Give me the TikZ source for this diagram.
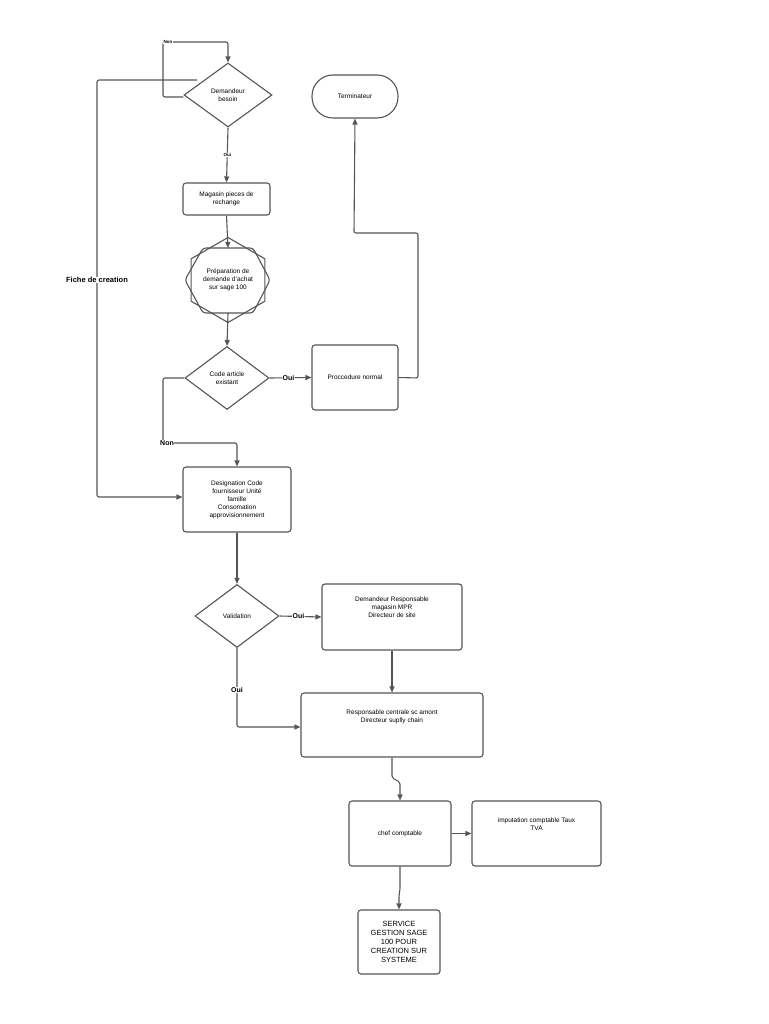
\documentclass[tikz,border=0pt]{standalone}
\usepackage{fontspec}
\setmainfont{Liberation Sans}
\usetikzlibrary{shapes.geometric,arrows.meta}
\definecolor{ln}{HTML}{555555}
\begin{document}
\begin{tikzpicture}[x=1pt,y=-1pt,
  box/.style={draw=ln,line width=1.1pt,rounded corners=3pt,align=center,font=\fontsize{6.5}{8}\selectfont,inner sep=1pt},
  dia/.style={draw=ln,line width=1.1pt,diamond,aspect=1.35,align=center,font=\fontsize{6.5}{8}\selectfont,inner sep=0pt,minimum width=88pt,minimum height=64pt},
  arr/.style={draw=ln,line width=1.1pt,-{Triangle[length=6pt,width=5pt]},rounded corners=2pt},
  lnk/.style={draw=ln,line width=1.1pt,rounded corners=2pt},
  lab/.style={font=\bfseries\fontsize{7}{8}\selectfont,fill=white,inner sep=0.5pt}]
\useasboundingbox (0,0) rectangle (768,1024);
\node[dia] (d1) at (228,95) {Demandeur\\besoin};
\node[box,minimum width=87pt,minimum height=32pt] (mag) at (226.5,199) {Magasin pieces de\\rechange};
\node[draw=ln,line width=1.1pt,regular polygon,regular polygon sides=6,shape border rotate=90,minimum size=1pt,inner sep=0pt,
  xscale=1,minimum width=85pt,minimum height=65pt] (hex) at (228,280) {};
\draw[ln,line width=1.1pt,rounded corners=3pt] (185,280)--(203,248)--(253,248)--(270,280)--(253,313)--(203,313)--cycle;
\node[align=center,font=\fontsize{6.5}{8}\selectfont] (hext) at (228,280) {Préparation de\\demande d'achat\\sur sage 100};
\node[dia,minimum width=84pt,minimum height=63pt] (d2) at (227,378) {Code article\\existant};
\node[box,minimum width=86pt,minimum height=65pt] (proc) at (355,377.5) {Proccedure normal};
\node[box,rounded corners=21pt,minimum width=86pt,minimum height=43pt] (term) at (355,96.5) {Terminateur};
\node[box,minimum width=108pt,minimum height=65pt] (des) at (237,499.5) {Designation Code\\fournisseur Unité\\famille\\Consomation\\approvisionnement};
\node[dia,minimum width=84pt,minimum height=63pt] (val) at (237,616) {Validation};
\node[box,minimum width=140pt,minimum height=66pt] (dem) at (392,617) {Demandeur Responsable\\magasin MPR\\Directeur de site\\[12pt]};
\node[box,minimum width=182pt,minimum height=64pt] (resp) at (392,725) {Responsable centrale sc amont\\Directeur suplly chain\\[10pt]};
\node[box,minimum width=102pt,minimum height=65pt] (chef) at (400,833.5) {chef comptable};
\node[box,minimum width=129pt,minimum height=65pt] (imp) at (536.5,833.5) {imputation comptable Taux\\TVA\\[10pt]};
\node[box,minimum width=82pt,minimum height=64pt,font=\fontsize{7.5}{9}\selectfont] (serv) at (399,942) {SERVICE\\GESTION SAGE\\100 POUR\\CREATION SUR\\SYSTEME};
\coordinate (nl) at (163,42);
\draw[arr] (d1.west)++(0,2) -- (163,97) -- (163,42) -- (228,42) -- (d1.north);
\node[font=\bfseries\fontsize{4.5}{5}\selectfont,fill=white,inner sep=0.3pt] (non1) at (168,42) {Non};
\draw[arr] (d1.south) -- (mag.north) node[lab,pos=0.5,font=\bfseries\fontsize{4.5}{5}\selectfont] (oui1) {Oui};
\draw[arr] (mag.south) -- (228,248);
\draw[arr] (228,313) -- (d2.north);
\draw[arr] (197,80) -- (97,80) -- (97,497) -- (des.west |- 0,497);
\node[lab,font=\bfseries\fontsize{7.5}{9}\selectfont] (fc) at (97,280) {Fiche de creation};
\draw[arr] (d2.east) -- (proc.west) node[lab,pos=0.45] (oui2) {Oui};
\draw[arr] (proc.east) -- (418,378) -- (418,233) -- (354,233) -- (term.south);
\draw[arr] (d2.west) -- (163,378) -- (163,443) -- (237,443) -- (des.north);
\node[lab] (non2) at (167,443) {Non};
\draw[arr] (des.south) -- (val.north);
\draw[arr] (val.east) -- (dem.west) node[lab,pos=0.45] (oui3) {Oui};
\draw[arr] (dem.south) -- (resp.north);
\draw[arr] (val.south) -- (237,727) -- (resp.west |- 0,727);
\node[lab] (oui4) at (237,690) {Oui};
\draw[arr] (resp.south) -- (392,778) -- (400,782) -- (chef.north);
\draw[arr] (chef.east) -- (imp.west);
\draw[arr] (chef.south) -- (400,890) -- (399,895) -- (serv.north);
\end{tikzpicture}
\end{document}
